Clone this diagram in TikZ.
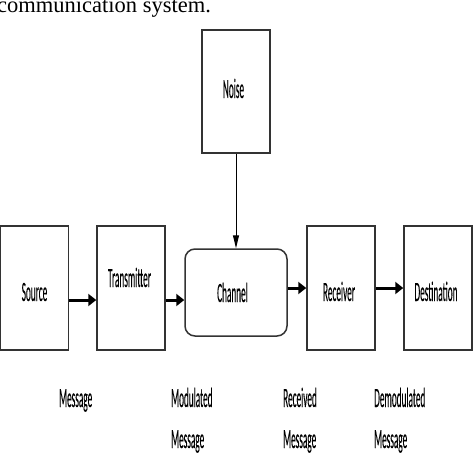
\documentclass[tikz,border=0pt]{standalone}
\usepackage{fontspec}
\usetikzlibrary{arrows.meta}
\newfontfamily\blockfont[FakeStretch=0.33, FakeBold=0.12]{Carlito}
\newfontfamily\captionfont{Liberation Serif}

\begin{document}
\begin{tikzpicture}[x=1pt, y=-1pt,
    blockbox/.style={draw=black!80, line width=1.5pt, minimum width=68pt, minimum height=124pt, inner sep=0pt},
    chanbox/.style={blockbox, rounded corners=10pt, minimum width=102pt, minimum height=87pt},
    blocktext/.style={anchor=base, inner sep=0pt, font=\blockfont\fontsize{28}{28}\selectfont},
    msgtext/.style={anchor=base west, inner sep=0pt, font=\blockfont\fontsize{28}{28}\selectfont},
    bigarrow/.style={line width=3pt, -{Triangle[length=8pt, width=12pt]}},
    thinarrow/.style={line width=1pt, -{Triangle[length=13pt, width=6pt]}}]
    \useasboundingbox (0,0) rectangle (474,455);
    \clip (0,0) rectangle (474,455);

    % Caption (cut off at the top)
    \node[anchor=base west, inner sep=0pt, font=\captionfont\fontsize{22.5}{22.5}\selectfont] (caption) at (-3,12.5) {communication system.};

    % Boxes
    \node[blockbox, minimum height=123pt] (noise) at (236,91.5) {};
    \node[blockbox] (src) at (34.5,288) {};
    \node[blockbox] (trans) at (131,288) {};
    \node[chanbox] (chan) at (236,292.5) {};
    \node[blockbox] (recv) at (341,288) {};
    \node[blockbox] (dest) at (438,288) {};

    % Box texts
    \node[blocktext] (noiselbl) at (233.5,98) {Noise};
    \node[blocktext] (srclbl) at (34.5,301) {Source};
    \node[blocktext] (translbl) at (129.5,287) {Transmitter};
    \node[blocktext] (chanlbl) at (232.5,302) {Channel};
    \node[blocktext] (recvlbl) at (339,301) {Receiver};
    \node[blocktext] (destlbl) at (436,301) {Destination};

    % Arrows
    \draw[thinarrow] (noise.south) -- (chan.north);
    \draw[bigarrow] ([yshift=-12pt]src.east) -- ([yshift=-12pt]trans.west);
    \draw[bigarrow] ([yshift=-12pt]trans.east) -- ([yshift=-7.5pt]chan.west);
    \draw[bigarrow] ([yshift=4.5pt]chan.east) -- (recv.west);
    \draw[bigarrow] (recv.east) -- (dest.west);

    % Message labels
    \node[msgtext] (msg) at (59,407) {Message};
    \node[msgtext] (modmsg) at (171,407) {Modulated};
    \node[msgtext] (modmsgb) at (171,448) {Message};
    \node[msgtext] (recmsg) at (283,407) {Received};
    \node[msgtext] (recmsgb) at (283,448) {Message};
    \node[msgtext] (demmsg) at (374,407) {Demodulated};
    \node[msgtext] (demmsgb) at (374,448) {Message};

\end{tikzpicture}
\end{document}
